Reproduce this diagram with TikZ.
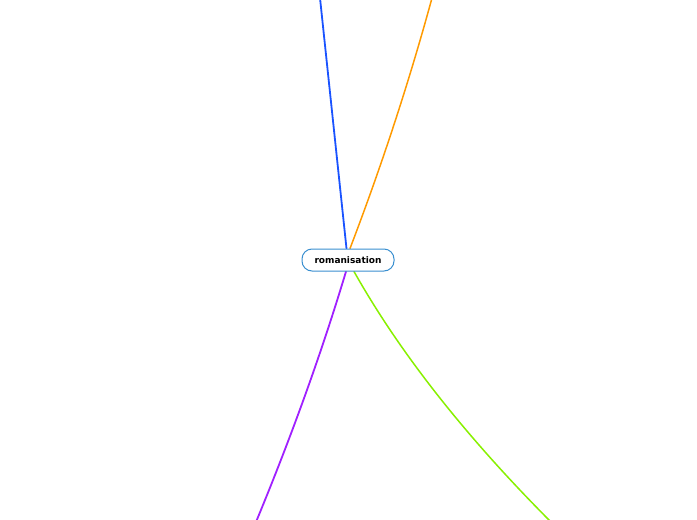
\documentclass[tikz,border=0pt]{standalone}
\usepackage{fontspec}
\setmainfont{DejaVu Sans}
\usetikzlibrary{backgrounds}
\definecolor{bluebr}{HTML}{1A53FF}
\definecolor{orangebr}{HTML}{FF9A00}
\definecolor{purplebr}{HTML}{A020FF}
\definecolor{greenbr}{HTML}{88F000}
\definecolor{nodeborder}{HTML}{3A8FD0}
\tikzset{
  central/.style={draw=nodeborder, line width=1pt, fill=white, rounded corners=10pt,
    minimum width=92pt, minimum height=22pt, inner sep=0pt,
    font=\fontsize{9}{11}\selectfont\bfseries},
  branch/.style={line width=1.8pt, line cap=round}
}
\begin{document}
\begin{tikzpicture}[x=1pt,y=-1pt]
\useasboundingbox (0,0) rectangle (697,520);
\node[central] (c) at (348,260) {romanisation};
\coordinate (tb) at (320,-2);
\coordinate (to) at (432,-2);
\coordinate (tp) at (256,522);
\coordinate (tg) at (551,522);
\begin{scope}[on background layer]
\draw[branch, bluebr] ([xshift=-1.5pt]c.north) -- (tb);
\draw[branch, orangebr, line width=1.5pt] ([xshift=2pt]c.north) .. controls (381.3,166.7) and (408.7,83.3) .. (to);
\draw[branch, purplebr] ([xshift=-2pt]c.south) .. controls (321.3,353.7) and (291.3,436.7) .. (tp);
\draw[branch, greenbr, line width=1.5pt] ([xshift=6pt]c.south) .. controls (400.3,353.7) and (466,436.7) .. (tg);
\end{scope}
\end{tikzpicture}
\end{document}
